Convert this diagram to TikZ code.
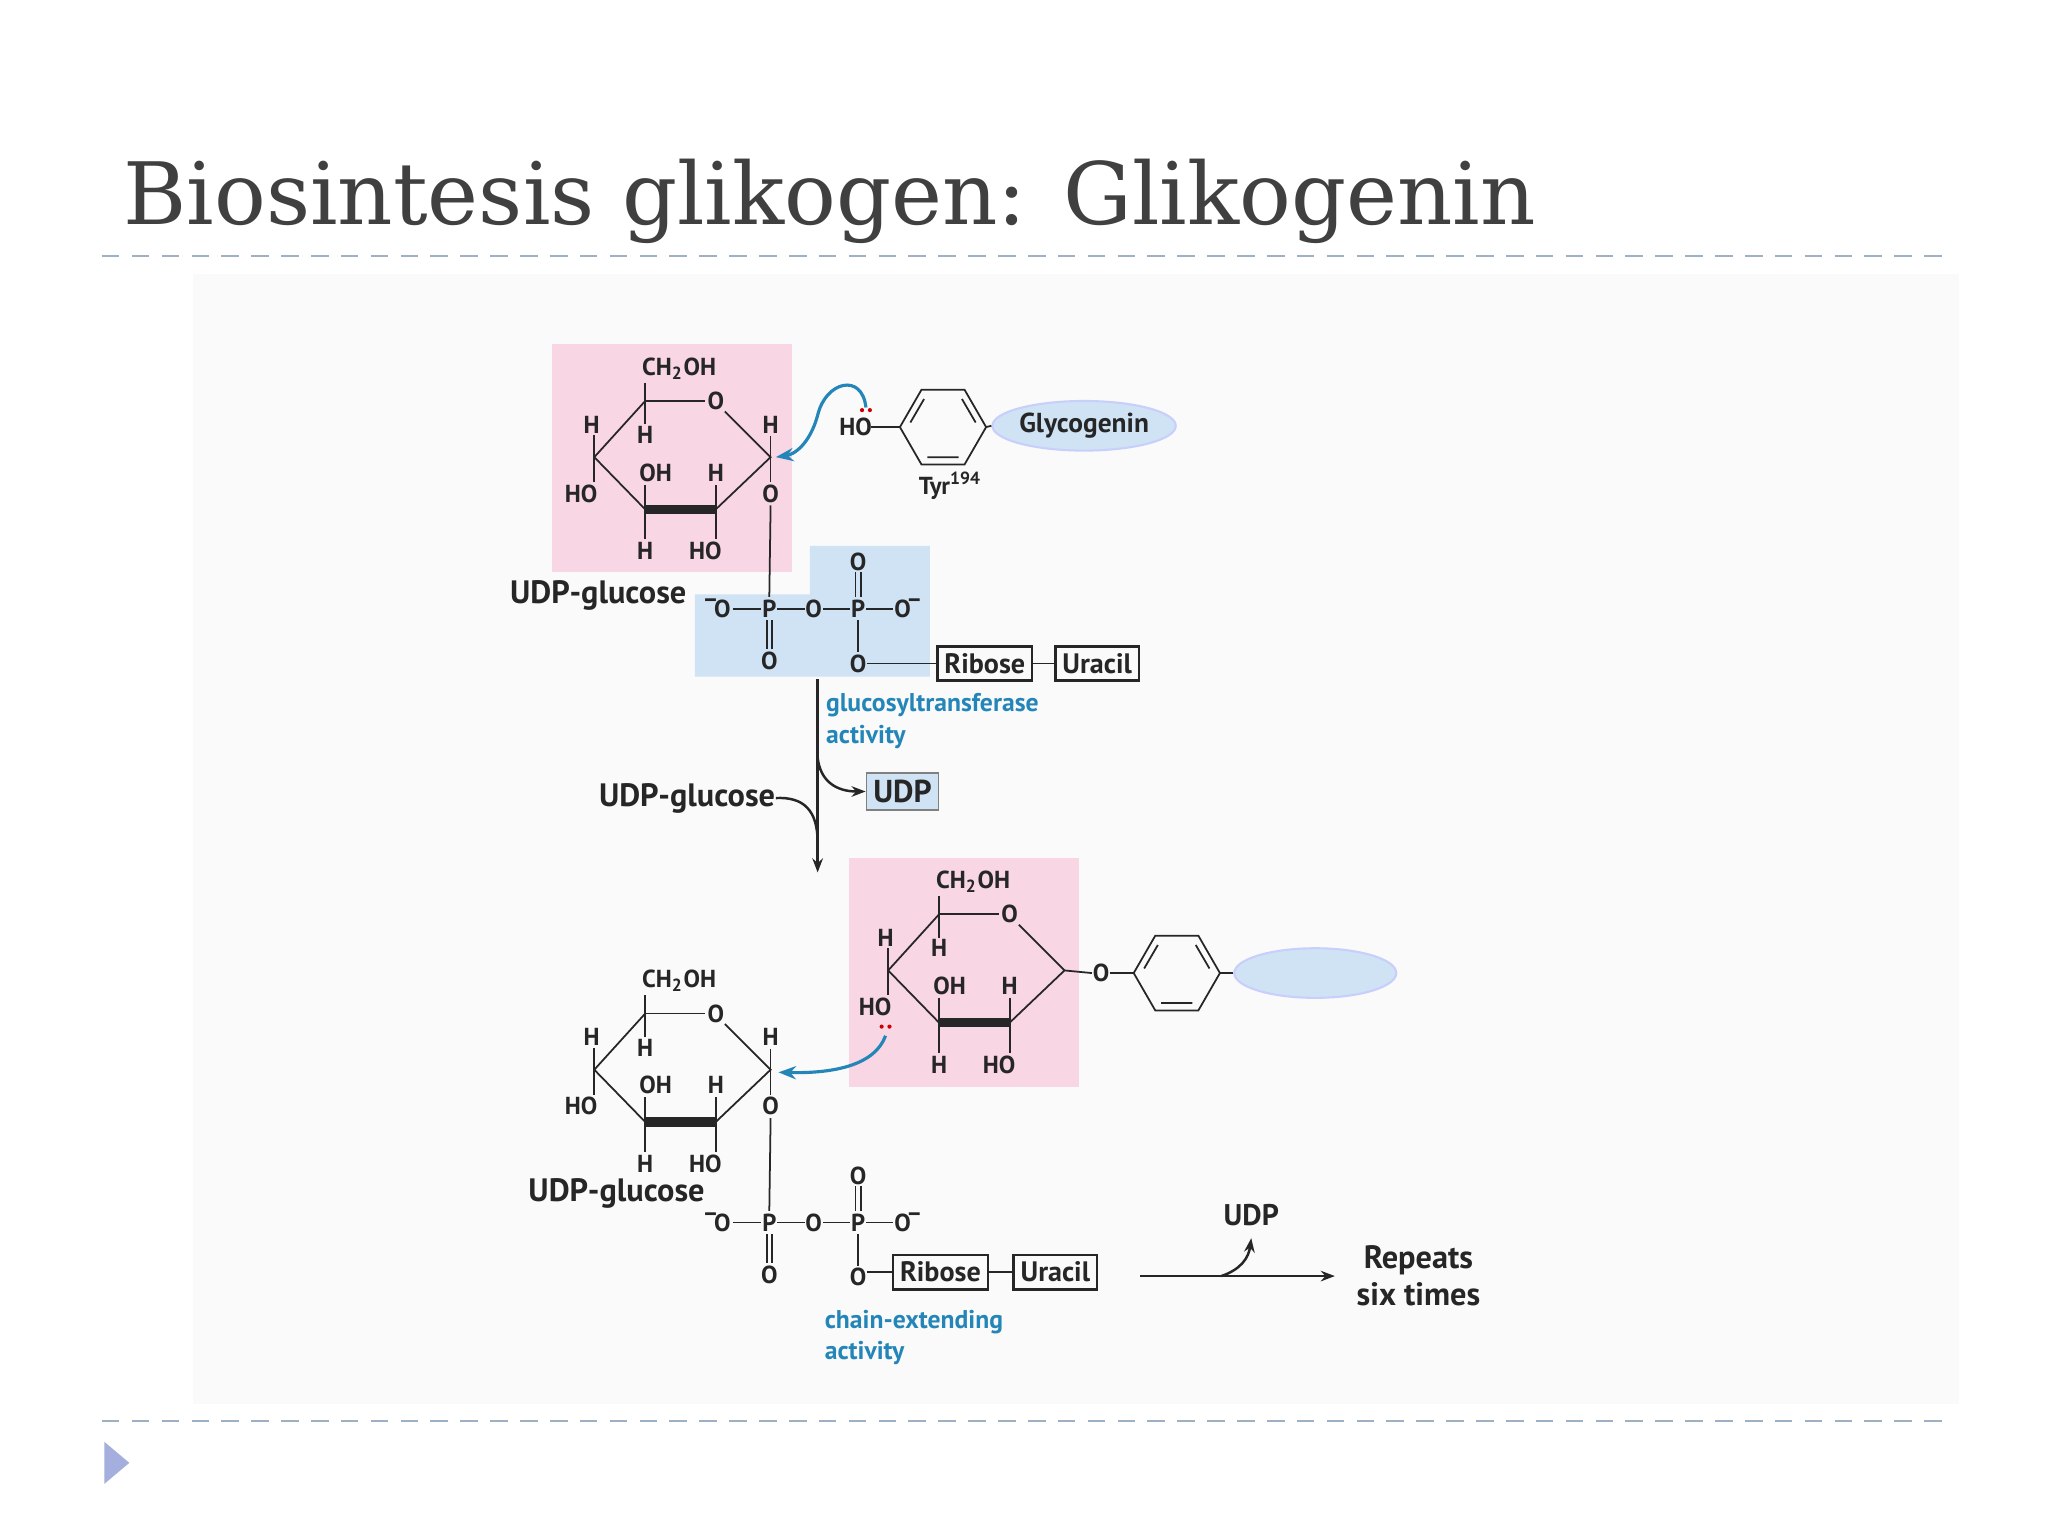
\documentclass[tikz,border=0pt]{standalone}
\usepackage{fontspec}
\usetikzlibrary{shapes.geometric,calc,arrows.meta}
\setmainfont{DejaVu Serif}
\newfontfamily\df{PT Sans}
\definecolor{pinkbg}{HTML}{F8D6E4}
\definecolor{bluebg}{HTML}{CFE3F5}
\definecolor{tealc}{HTML}{2486B8}
\definecolor{titlec}{HTML}{404040}
\definecolor{dashc}{HTML}{9DB0C4}
\begin{document}
\begin{tikzpicture}[x=0.01306cm,y=-0.01306cm,
  lab/.style={font=\df\bfseries\fontsize{7}{7}\selectfont,inner sep=0pt,text=black!85},
  big/.style={font=\df\bfseries\fontsize{9.2}{10.5}\selectfont,inner sep=0pt,text=black!85},
  act/.style={font=\df\bfseries\fontsize{7.3}{9}\selectfont,inner sep=0pt,text=tealc,align=left,anchor=west},
  bnd/.style={line width=0.5pt,black!85},
  boxn/.style={draw=black!85,line width=0.7pt,inner sep=2pt,font=\df\bfseries\fontsize{8}{9}\selectfont,text=black!85},
  curv/.style={tealc,line width=0.9pt,-{Stealth[length=5pt]}},
  flow/.style={line width=0.7pt,black!85,-{Stealth[length=4pt]}},
  glyc/.style={ellipse,draw=bluebg!70!blue!50,fill=bluebg,line width=0.6pt,inner sep=0pt,minimum height=0.496cm,minimum width=1.6cm}]
\useasboundingbox (0,0) rectangle (1568,1176);
\fill[white] (0,0) rectangle (1568,1176);
\fill[black!2] (148,210) rectangle (1500,1075);
% title
\node[anchor=base west,inner sep=0pt,text=titlec,font=\fontsize{24.5}{30}\selectfont] (title) at (94,172) {Biosintesis glikogen: Glikogenin};
\draw[dashc,line width=0.6pt,dash pattern=on 5pt off 3.5pt] (78,196) -- (1490,196);
\draw[dashc,line width=0.6pt,dash pattern=on 5pt off 3.5pt] (78,1088) -- (1490,1088);
\fill[dashc!80!blue!70] (80,1104) -- (99,1120) -- (80,1136) -- cycle;
% backgrounds
\fill[pinkbg] (423,263) rectangle (606,438);
\fill[pinkbg] (650,657) rectangle (826,832);
\fill[bluebg] (532,455) -- (620,455) -- (620,418) -- (712,418) -- (712,518) -- (532,518) -- cycle;
% ring macro
\newcommand{\glring}[1]{%
\begin{scope}[shift={#1}]
\draw[bnd] (0,0)--(46,0); \node[lab] at (54,0) {O};
\draw[bnd] (61,8)--(96,43) -- (54,83);
\draw[line width=2.6pt,black!85] (54,83)--(0,83);
\draw[bnd] (0,83)--(-39,43)--(0,0);
\draw[bnd] (0,0)--(0,-14); \node[lab] at (26,-25) {CH\textsubscript{2}OH};
\draw[bnd] (0,0)--(0,18); \node[lab] at (0,26) {H};
\draw[bnd] (-39,43)--(-39,26); \node[lab] at (-41,18) {H};
\draw[bnd] (-39,43)--(-39,62); \node[lab] at (-49,71) {HO};
\draw[bnd] (0,83)--(0,64); \node[lab] at (8,55) {OH};
\draw[bnd] (0,83)--(0,106); \node[lab] at (0,115) {H};
\draw[bnd] (54,83)--(54,64); \node[lab] at (54,55) {H};
\draw[bnd] (54,83)--(54,106); \node[lab] at (46,115) {HO};
\end{scope}}
\newcommand{\benz}[1]{%
\begin{scope}[shift={#1}]
\draw[bnd] (33,0)--(16.5,-28.6)--(-16.5,-28.6)--(-33,0)--(-16.5,28.6)--(16.5,28.6)--cycle;
\draw[bnd] (25,-3.5)--(14.5,-21.5) (-25,-3.5)--(-14.5,-21.5) (-12,23)--(12,23);
\end{scope}}
\newcommand{\phos}[1]{%
\begin{scope}[shift={#1}]
\node[lab] at (-36,0) {O}; \node[lab] at (-45,-4) {\textminus};
\node[lab] at (0,0) {P}; \node[lab] at (34,0) {O};
\node[lab] at (68,0) {P}; \node[lab] at (102,0) {O}; \node[lab] at (111,-4) {\textminus};
\draw[bnd] (-28,0)--(-6,0) (6,0)--(27,0) (41,0)--(62,0) (74,0)--(95,0);
\draw[bnd] (-2,9)--(-2,31) (2,9)--(2,31); \node[lab] at (0,40) {O};
\draw[bnd] (66,-9)--(66,-28) (70,-9)--(70,-28); \node[lab] at (68,-36) {O};
\draw[bnd] (68,9)--(68,33); \node[lab] at (68,42) {O};
\end{scope}}
% ring 1
\glring{(494,307)}
\draw[bnd] (590,350)--(590,334); \node[lab] at (590,325) {H};
\draw[bnd] (590,350)--(590,369); \node[lab] at (590,378) {O};
\draw[bnd] (590,387)--(589,457);
\node[big,anchor=east] (udpg1) at (526,456) {UDP-glucose};
\phos{(589,466)}
\node[boxn] (rib1) at (754,508) {Ribose};
\node[boxn] (ura1) at (840,508) {Uracil};
\draw[bnd] (664,508) -- (rib1.west); \draw[bnd] (rib1) -- (ura1);
% tyrosine
\node[lab] (ho1) at (655,327) {HO};
\fill[red!80!black] (660,314) circle (1.6) (666,314) circle (1.6);
\benz{(722,327)}
\draw[bnd] (667,327)--(689,327);
\node[glyc,font=\df\bfseries\fontsize{7.8}{9}\selectfont,text=black!85] (gly1) at (830,326) {Glycogenin};
\draw[bnd] (755,327)--(gly1.west);
\node[lab,anchor=west] (tyr) at (703,372) {Tyr\textsuperscript{194}};
\draw[curv] (663,312) .. controls (660,285) and (632,292) .. (626,318) .. controls (620,340) and (608,348) .. (594,350);
% main arrow
\coordinate (mtop) at (626,520);
\coordinate (mbot) at (626,668);
\draw[flow] (mtop) -- (mbot);
\node[act] (gt) at (632,552) {glucosyltransferase\\activity};
\node[draw=black!50,fill=bluebg,inner sep=2pt,font=\df\bfseries\fontsize{9}{9}\selectfont,text=black!85] (udp1) at (691,606) {UDP};
\draw[flow] (626,580) .. controls (628,598) and (640,606) .. (udp1.west);
\node[big,anchor=east] (udpg2) at (594,611) {UDP-glucose};
\draw[line width=0.7pt,black!85] (udpg2.east) .. controls (615,610) and (626,620) .. (626,645);
% ring 3 (glycogenin-bound)
\glring{(719,700)}
\draw[bnd] (815,743)--(836,745); \node[lab] at (843,745) {O};
\benz{(901,745)}
\draw[bnd] (850,745)--(868,745);
\node[glyc,minimum width=1.62cm] (gly2) at (1007,745) {};
\draw[bnd] (934,745)--(gly2.west);
\fill[red!80!black] (675,786) circle (1.6) (681,786) circle (1.6);
% ring 2
\glring{(494,776)}
\draw[bnd] (590,819)--(590,803); \node[lab] at (590,794) {H};
\draw[bnd] (590,819)--(590,838); \node[lab] at (590,847) {O};
\draw[bnd] (590,856)--(589,927);
\draw[curv] (678,793) .. controls (670,815) and (640,822) .. (596,821);
\node[big,anchor=east] (udpg3) at (540,914) {UDP-glucose};
\phos{(589,936)}
\node[boxn] (rib2) at (720,974) {Ribose};
\node[boxn] (ura2) at (808,974) {Uracil};
\draw[bnd] (664,974) -- (rib2.west); \draw[bnd] (rib2) -- (ura2);
\node[act] (ce) at (631,1024) {chain-extending\\activity};
% final arrow
\coordinate (fa) at (873,977);
\coordinate (fb) at (1022,977);
\draw[flow] (fa) -- (fb);
\node[big,font=\df\bfseries\fontsize{8.5}{10}\selectfont] (udp2) at (958,930) {UDP};
\draw[line width=0.7pt,black!85,-{Stealth[length=4pt]}] (935,977) .. controls (950,972) and (956,963) .. (958,948);
\node[big,align=center] (rep) at (1086,977) {Repeats\\six times};
\end{tikzpicture}
\end{document}
